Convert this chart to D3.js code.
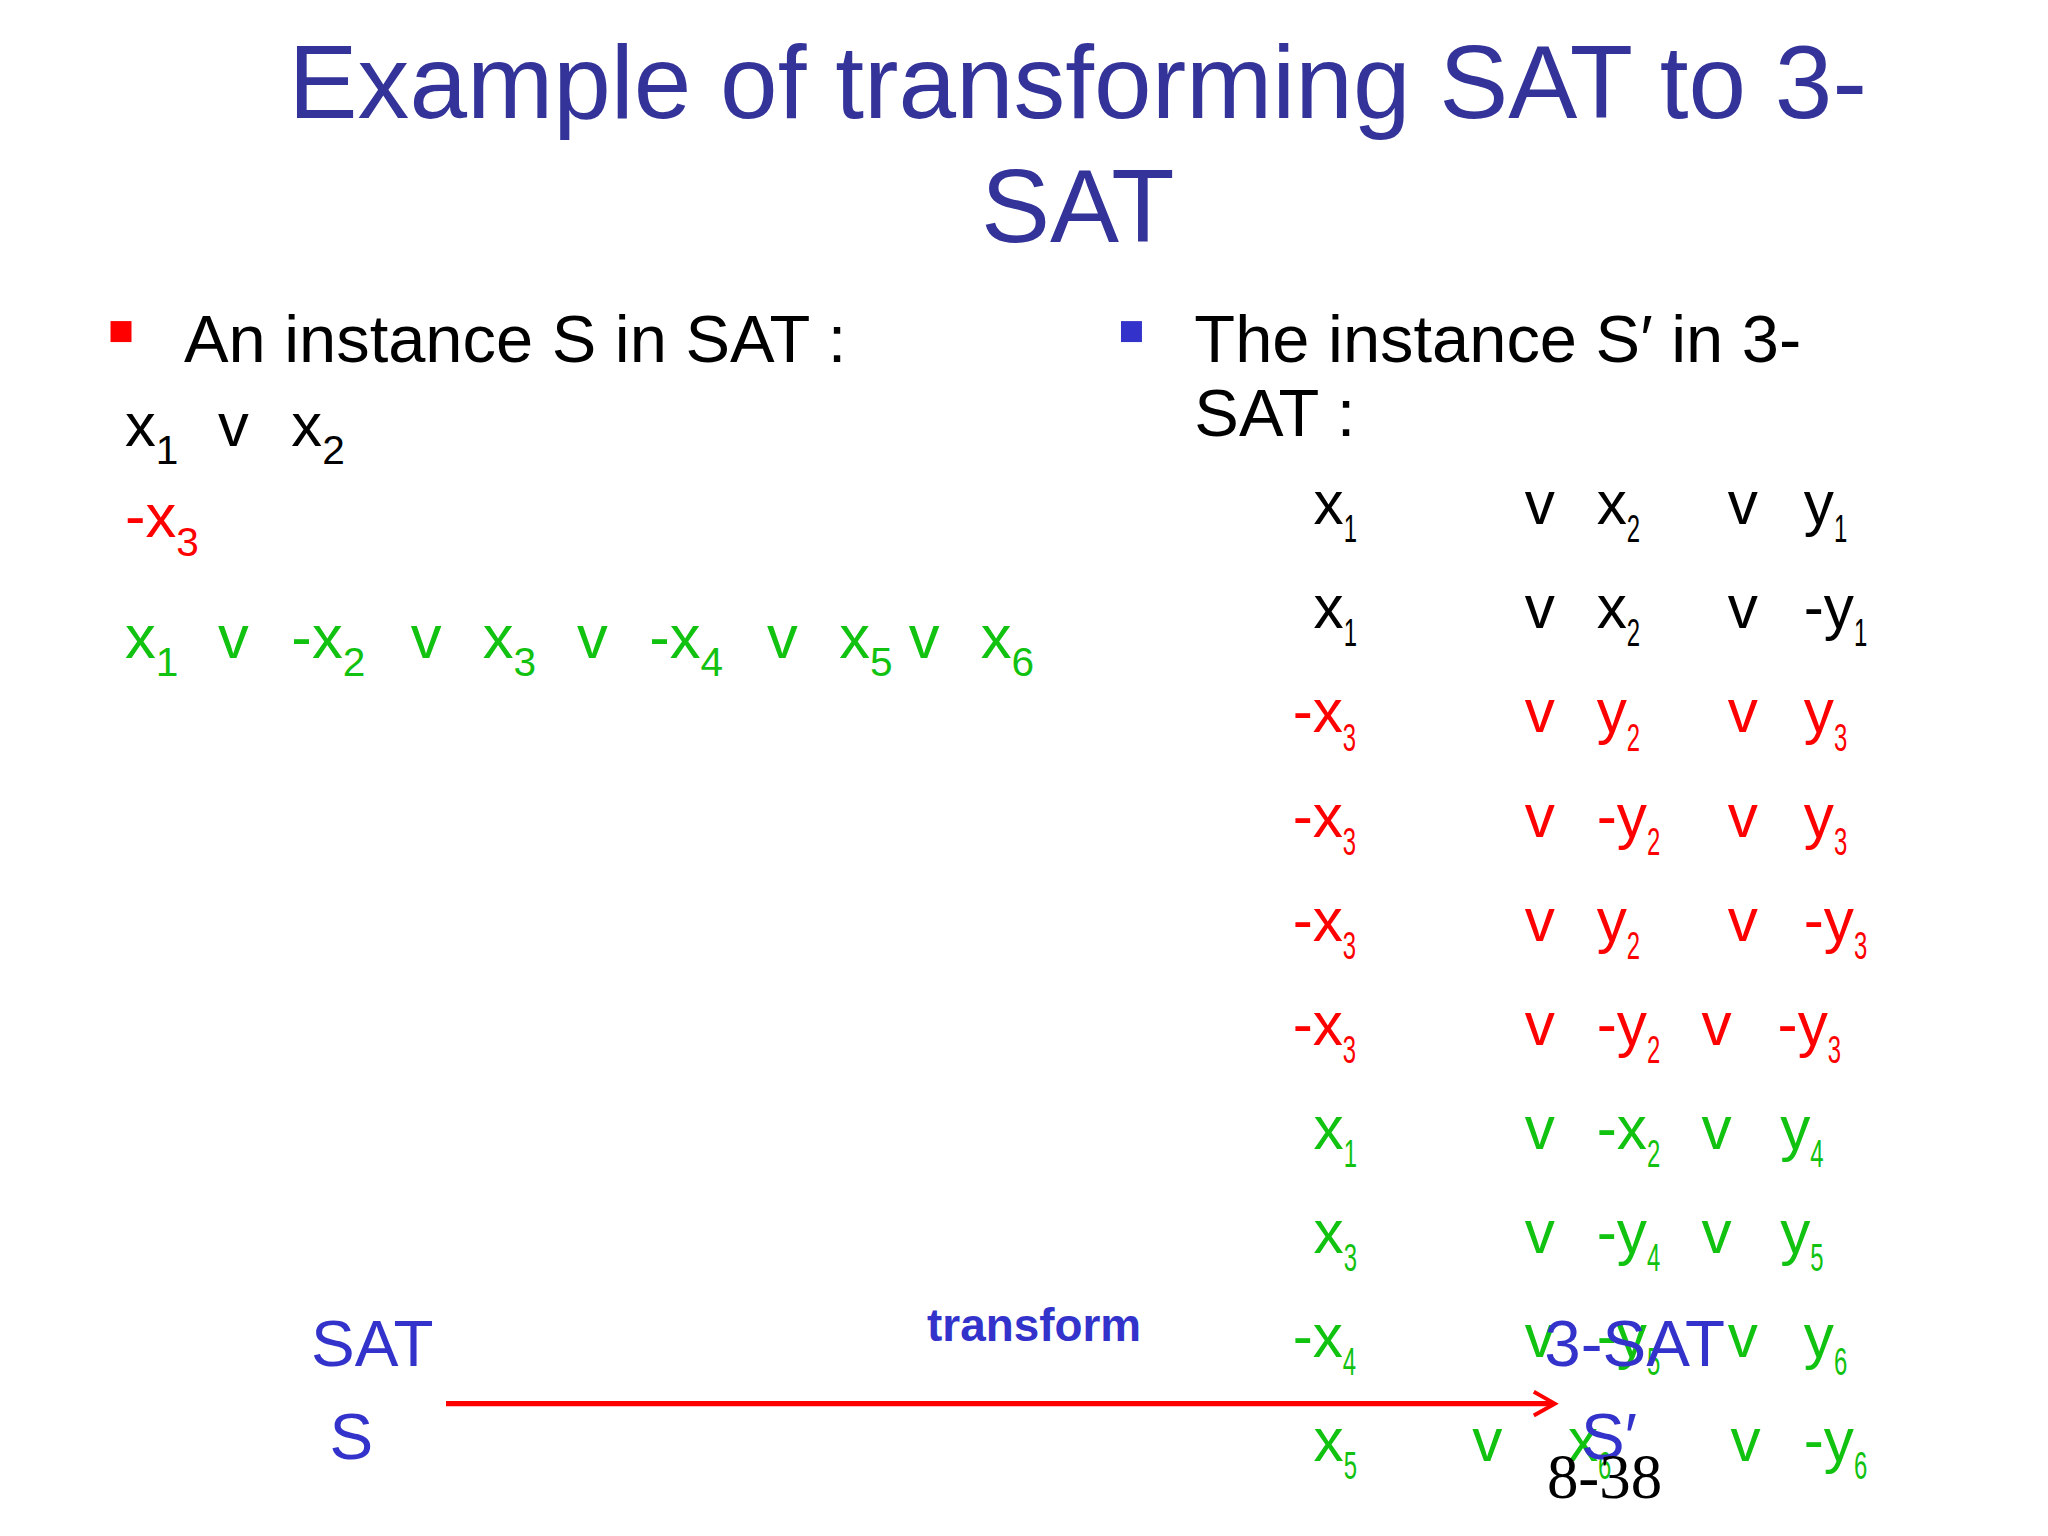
<!DOCTYPE html>
<html><head><meta charset="utf-8">
<script src="https://cdn.jsdelivr.net/npm/d3@7"></script>
<style>body{margin:0;background:#fff}</style></head>
<body><svg id="s" width="2048" height="1536" viewBox="0 0 1562 1172"></svg>
<script>
const titleLines = ["Example of transforming SAT to 3-", "SAT"];
const leftHeading = "An instance S in SAT :";
const rightHeading = ["The instance S\u2032 in 3-", "SAT :"];
const leftClauses = [
  ["x1","v","x2"],
  ["-x3"],
  ["x1","v","-x2","v","x3","v","-x4","v","x5","v","x6"]
];
const leftColors = ["#000000","#ff0000","#11c211"];
const rightClauses = [
  ["x1","v","x2","v","y1"],
  ["x1","v","x2","v","-y1"],
  ["-x3","v","y2","v","y3"],
  ["-x3","v","-y2","v","y3"],
  ["-x3","v","y2","v","-y3"],
  ["-x3","v","-y2","v","-y3"],
  ["x1","v","-x2","v","y4"],
  ["x3","v","-y4","v","y5"],
  ["-x4","v","-y5","v","y6"],
  ["x5","v","x6","v","-y6"]
];
const rightColors = ["#000","#000","#ff0000","#ff0000","#ff0000","#ff0000","#11c211","#11c211","#11c211","#11c211"];

const svg = d3.select("#s");
const F = "Liberation Sans, Arial, sans-serif";
const blue = "#333399";

svg.selectAll(".title").data(titleLines).join("text")
  .attr("x",822).attr("y",(d,i)=>90+i*95).attr("text-anchor","middle")
  .attr("font-family",F).attr("font-size",79).attr("fill",blue).text(d=>d);

svg.append("rect").attr("x",84).attr("y",245).attr("width",16).attr("height",16).attr("fill","#ff0000");
svg.append("text").attr("x",140).attr("y",276).attr("font-family",F).attr("font-size",51).text(leftHeading);
svg.append("rect").attr("x",855).attr("y",245).attr("width",16).attr("height",16).attr("fill","#3333cc");
svg.selectAll(".rh").data(rightHeading).join("text").attr("x",911).attr("y",(d,i)=>276+i*57)
  .attr("font-family",F).attr("font-size",51).text(d=>d);

function lit(sel, tok, x, y, size, subSize, color, condensed){
  const t = sel.append("text").attr("x",x).attr("y",y).attr("font-family",F)
    .attr("font-size",size).attr("fill",color);
  const m = tok.match(/^(-?[a-z])(\d*)$/);
  if(!m){ t.text(tok); return; }
  t.append("tspan").text(m[1]);
  if(m[2]) t.append("tspan").attr("dy",size*0.3).attr("font-size",subSize)
    .attr("textLength",condensed?subSize*0.35:null).attr("lengthAdjust","spacingAndGlyphs").text(m[2]);
}

const leftX = [[95,166,222],[95],[95,166,222,313,368,440,495,585,640,693,748]];
const leftY = d3.scaleLinear().domain([0,1]).range([340,410]);
leftClauses.forEach((row,i)=>{
  const y = i<2 ? leftY(i) : 502;
  row.forEach((tok,j)=>lit(svg,tok,leftX[i][j],y,47,31,leftColors[i],false));
});

const rowY = d3.scaleLinear().domain([0,9]).range([400,1115]);
const colX = r => {
  const base = [1002,1163,1218,1318,1376];
  if(r===6||r===7) return [1002,1163,1218,1298,1358];
  if(r===5) return [986,1163,1218,1298,1356];
  if(r===9) return [1002,1123,1196,1320,1376];
  return base;
};
rightClauses.forEach((row,i)=>{
  const xs = colX(i);
  row.forEach((tok,j)=>{
    let x = xs[j];
    if(j===0 && tok[0]==="-") x = 986;
    lit(svg,tok,x,rowY(i),46,29,rightColors[i],true);
  });
});

const bl = "#3333cc";
svg.append("text").attr("x",237).attr("y",1042).attr("font-family",F).attr("font-size",50).attr("fill",bl).text("SAT");
svg.append("text").attr("x",251).attr("y",1113).attr("font-family",F).attr("font-size",50).attr("fill",bl).text("S");
svg.append("text").attr("x",707).attr("y",1023).attr("font-family",F).attr("font-size",35).attr("font-weight","bold").attr("fill",bl).text("transform");
svg.append("line").attr("x1",340).attr("x2",1185).attr("y1",1071).attr("y2",1071).attr("stroke","#ff0000").attr("stroke-width",4);
svg.append("path").attr("d","M1170,1062 L1186,1071 L1170,1080").attr("fill","none").attr("stroke","#ff0000").attr("stroke-width",3);
svg.append("text").attr("x",1178).attr("y",1042).attr("font-family",F).attr("font-size",50).attr("fill",bl).text("3-SAT");
svg.append("text").attr("x",1206).attr("y",1113).attr("font-family",F).attr("font-size",50).attr("fill",bl).text("S\u2032");
svg.append("text").attr("x",1180).attr("y",1143).attr("font-family","Liberation Serif, serif").attr("font-size",48).attr("fill","#000").text("8-38");
</script></body></html>
